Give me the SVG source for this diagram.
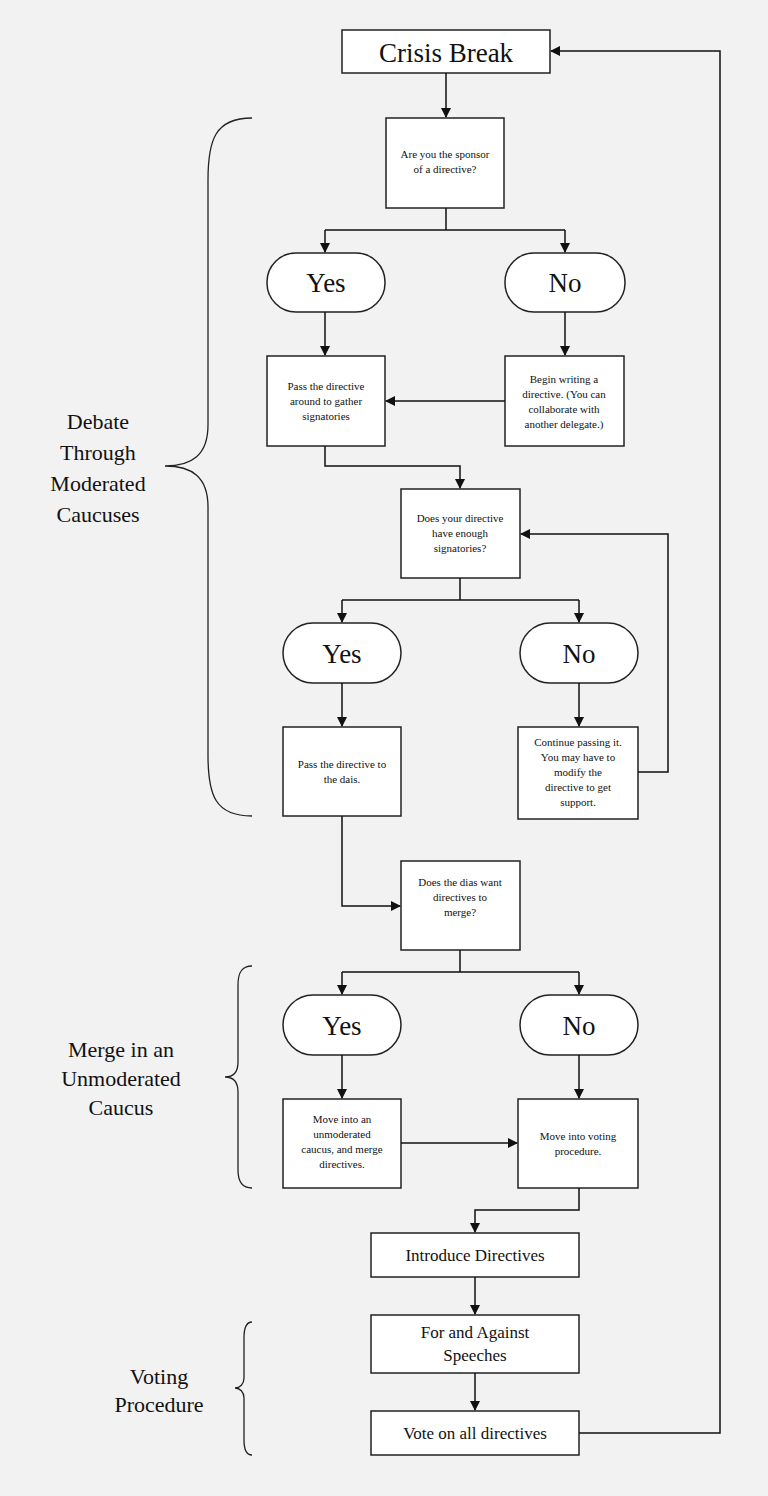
<svg xmlns="http://www.w3.org/2000/svg" width="768" height="1496" viewBox="0 0 768 1496">
<defs>
<marker id="ah" markerWidth="10" markerHeight="10" refX="9" refY="5" orient="auto" markerUnits="userSpaceOnUse"><path d="M0,0 L10,5 L0,10 Z" fill="#111"/></marker>
<style>
.b{fill:#fff;stroke:#222;stroke-width:1.5}
.c{fill:none;stroke:#111;stroke-width:1.5}
.br{fill:none;stroke:#222;stroke-width:1.3}
text{font-family:"Liberation Serif","DejaVu Serif",serif;fill:#111;text-anchor:middle}
.s{font-size:11px}
.m{font-size:17px}
.l{font-size:27px}
.g{font-size:22px}
</style>
</defs>
<rect width="768" height="1496" fill="#f2f2f2"/>
<g id="crisis"><rect class="b" x="342" y="30" width="208" height="43"/><text class="l" x="446" y="62">Crisis Break</text></g>
<g id="q1"><rect class="b" x="386" y="118" width="118" height="90"/><text class="s" x="445" y="158">Are you the sponsor</text><text class="s" x="445" y="173">of a directive?</text></g>
<g id="yes1"><rect class="b" x="267" y="253" width="118" height="59" rx="29"/><text class="l" x="326" y="292">Yes</text></g>
<g id="no1"><rect class="b" x="505" y="253" width="120" height="59" rx="29"/><text class="l" x="565" y="292">No</text></g>
<g id="pass1"><rect class="b" x="267" y="356" width="118" height="90"/><text class="s" x="326" y="390">Pass the directive</text><text class="s" x="326" y="405">around to gather</text><text class="s" x="326" y="420">signatories</text></g>
<g id="begin"><rect class="b" x="505" y="356" width="119" height="90"/><text class="s" x="564" y="383">Begin writing a</text><text class="s" x="564" y="398">directive. (You can</text><text class="s" x="564" y="413">collaborate with</text><text class="s" x="564" y="428">another delegate.)</text></g>
<g id="q2"><rect class="b" x="401" y="489" width="119" height="89"/><text class="s" x="460" y="522">Does your directive</text><text class="s" x="460" y="537">have enough</text><text class="s" x="460" y="552">signatories?</text></g>
<g id="yes2"><rect class="b" x="283" y="623" width="118" height="60" rx="30"/><text class="l" x="342" y="663">Yes</text></g>
<g id="no2"><rect class="b" x="520" y="623" width="118" height="60" rx="30"/><text class="l" x="579" y="663">No</text></g>
<g id="dais"><rect class="b" x="283" y="727" width="118" height="89"/><text class="s" x="342" y="768">Pass the directive to</text><text class="s" x="342" y="783">the dais.</text></g>
<g id="cont"><rect class="b" x="518" y="727" width="120" height="92"/><text class="s" x="578" y="746">Continue passing it.</text><text class="s" x="578" y="761">You may have to</text><text class="s" x="578" y="776">modify the</text><text class="s" x="578" y="791">directive to get</text><text class="s" x="578" y="806">support.</text></g>
<g id="q3"><rect class="b" x="401" y="861" width="119" height="89"/><text class="s" x="460" y="886">Does the dias want</text><text class="s" x="460" y="901">directives to</text><text class="s" x="460" y="916">merge?</text></g>
<g id="yes3"><rect class="b" x="283" y="995" width="118" height="60" rx="30"/><text class="l" x="342" y="1035">Yes</text></g>
<g id="no3"><rect class="b" x="520" y="995" width="118" height="60" rx="30"/><text class="l" x="579" y="1035">No</text></g>
<g id="merge"><rect class="b" x="283" y="1099" width="118" height="89"/><text class="s" x="342" y="1123">Move into an</text><text class="s" x="342" y="1138">unmoderated</text><text class="s" x="342" y="1153">caucus, and merge</text><text class="s" x="342" y="1168">directives.</text></g>
<g id="voting"><rect class="b" x="518" y="1099" width="120" height="89"/><text class="s" x="578" y="1140">Move into voting</text><text class="s" x="578" y="1155">procedure.</text></g>
<g id="intro"><rect class="b" x="371" y="1233" width="208" height="44"/><text class="m" x="475" y="1261">Introduce Directives</text></g>
<g id="forag"><rect class="b" x="371" y="1315" width="208" height="58"/><text class="m" x="475" y="1338">For and Against</text><text class="m" x="475" y="1361">Speeches</text></g>
<g id="vote"><rect class="b" x="371" y="1411" width="208" height="44"/><text class="m" x="475" y="1439">Vote on all directives</text></g>
<g id="connectors">
<path class="c" d="M446,73 V117" marker-end="url(#ah)"/>
<path class="c" d="M446,208 V230 M325,230 H565"/>
<path class="c" d="M325,230 V252" marker-end="url(#ah)"/>
<path class="c" d="M565,230 V252" marker-end="url(#ah)"/>
<path class="c" d="M325,312 V355" marker-end="url(#ah)"/>
<path class="c" d="M565,312 V355" marker-end="url(#ah)"/>
<path class="c" d="M505,401 H386" marker-end="url(#ah)"/>
<path class="c" d="M325,446 V466 H460 V488" marker-end="url(#ah)"/>
<path class="c" d="M460,578 V600 M342,600 H579"/>
<path class="c" d="M342,600 V622" marker-end="url(#ah)"/>
<path class="c" d="M579,600 V622" marker-end="url(#ah)"/>
<path class="c" d="M342,683 V726" marker-end="url(#ah)"/>
<path class="c" d="M579,683 V726" marker-end="url(#ah)"/>
<path class="c" d="M638,772 H668 V534 H521" marker-end="url(#ah)"/>
<path class="c" d="M342,816 V906 H400" marker-end="url(#ah)"/>
<path class="c" d="M460,950 V972 M342,972 H579"/>
<path class="c" d="M342,972 V994" marker-end="url(#ah)"/>
<path class="c" d="M579,972 V994" marker-end="url(#ah)"/>
<path class="c" d="M342,1055 V1098" marker-end="url(#ah)"/>
<path class="c" d="M579,1055 V1098" marker-end="url(#ah)"/>
<path class="c" d="M401,1143 H517" marker-end="url(#ah)"/>
<path class="c" d="M579,1188 V1210 H475 V1232" marker-end="url(#ah)"/>
<path class="c" d="M475,1277 V1314" marker-end="url(#ah)"/>
<path class="c" d="M475,1373 V1410" marker-end="url(#ah)"/>
<path class="c" d="M579,1433 H720 V51 H551" marker-end="url(#ah)"/>
</g>
<g id="brace1"><path class="br" d="M252,118 C215,118 208,140 208,180 L208,425 C208,455 192,466 165,466 C192,466 208,477 208,507 L208,755 C208,795 215,816 252,816"/>
<text class="g" x="98" y="429">Debate</text><text class="g" x="98" y="460">Through</text><text class="g" x="98" y="491">Moderated</text><text class="g" x="98" y="522">Caucuses</text></g>
<g id="brace2"><path class="br" d="M252,966 C242,966 238,972 238,985 L238,1062 C238,1072 233,1077 225,1077 C233,1077 238,1082 238,1092 L238,1170 C238,1182 242,1188 252,1188"/>
<text class="g" x="121" y="1057">Merge in an</text><text class="g" x="121" y="1086">Unmoderated</text><text class="g" x="121" y="1115">Caucus</text></g>
<g id="brace3"><path class="br" d="M252,1322 C246,1322 244,1328 244,1338 L244,1378 C244,1384 240,1388 235,1388 C240,1388 244,1392 244,1398 L244,1440 C244,1450 246,1455 252,1455"/>
<text class="g" x="159" y="1384">Voting</text><text class="g" x="159" y="1412">Procedure</text></g>
</svg>
